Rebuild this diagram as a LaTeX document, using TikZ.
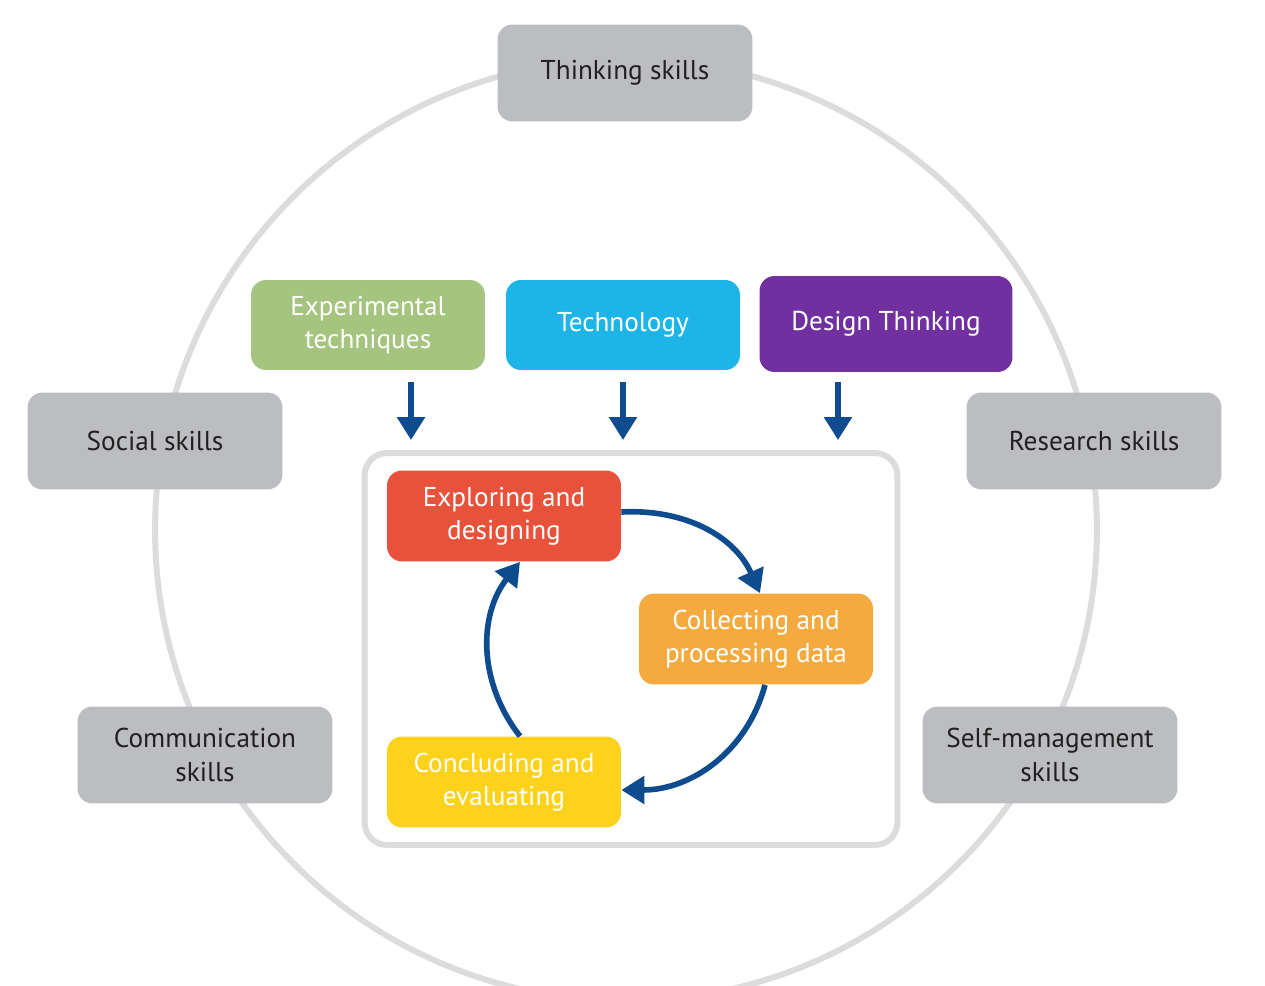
\documentclass[tikz,border=0pt]{standalone}
\usepackage{fontspec}
\setmainfont{PT Sans}
\setsansfont{PT Sans}
\usetikzlibrary{arrows.meta,calc}

\definecolor{ringgrey}{HTML}{DCDCDC}
\definecolor{skillgrey}{HTML}{BCBDC0}
\definecolor{inkblack}{HTML}{231F20}
\definecolor{expgreen}{HTML}{A5C47F}
\definecolor{techblue}{HTML}{1DB5E8}
\definecolor{dtpurple}{HTML}{7030A0}
\definecolor{explorered}{HTML}{E8523A}
\definecolor{collectorange}{HTML}{F5AA3F}
\definecolor{concludeyellow}{HTML}{FCD21C}
\definecolor{arrowblue}{HTML}{0E4B8F}

\begin{document}
\begin{tikzpicture}[x=0.02cm,y=0.02cm,>={Triangle[length=0.46cm,width=0.54cm]},
        font=\fontsize{15.5}{19}\selectfont,
        skill/.style={fill=skillgrey,text=inkblack,rounded corners=0.3cm,
            minimum width=5.1cm,minimum height=1.94cm,align=center,inner sep=0pt},
        tool/.style={text=white,rounded corners=0.3cm,
            minimum width=4.68cm,minimum height=1.8cm,align=center,inner sep=0pt},
        stage/.style={text=white,rounded corners=0.3cm,
            minimum width=4.68cm,minimum height=1.82cm,align=center,inner sep=0pt},
        flow/.style={->,draw=arrowblue,line width=3.2pt}]
        \useasboundingbox (0,0) rectangle (1265,-986);
        \clip (0,0) rectangle (1265,-986);

        % the big ring behind everything
        \draw[ringgrey,line width=3.4pt] (626,-530) circle(9.42cm);

        % the skills round the ring
        \node[skill] (think) at (625,-73) {Thinking skills};
        \node[skill] (social) at (155,-441) {Social skills};
        \node[skill] (research) at (1094,-441) {Research skills};
        \node[skill] (comm) at (205,-755) {Communication\\skills};
        \node[skill] (selfman) at (1050,-755) {Self-management\\skills};

        % the three tools on top
        \node[tool,fill=expgreen] (expt) at (368,-325) {Experimental\\techniques};
        \node[tool,fill=techblue] (tech) at (623,-325) {Technology};
        \node[tool,fill=dtpurple,minimum width=5.06cm,minimum height=1.92cm]
            (design) at (886,-324) {Design Thinking};

        % the box that holds the cycle
        \node[draw=ringgrey,line width=3.4pt,rounded corners=0.45cm,
            minimum width=10.66cm,minimum height=7.84cm] (inner) at (631,-649) {};

        % the stages of the cycle
        \node[stage,fill=explorered] (explore) at (504,-516) {Exploring and\\designing};
        \node[stage,fill=collectorange] (collect) at (756,-639) {Collecting and\\processing data};
        \node[stage,fill=concludeyellow] (conclude) at (504,-782) {Concluding and\\evaluating};

        % arrows down from the tools
        \draw[flow] ($(expt.south)+(43,-12)$) -- ($(expt.south |- inner.north)+(43,10)$);
        \draw[flow] ($(tech.south)+(0,-12)$) -- ($(tech.south |- inner.north)+(0,10)$);
        \draw[flow] ($(design.south)+(-48,-10)$) -- ($(design.south |- inner.north)+(-48,10)$);

        % the cycle
        \draw[flow] ([yshift=0.08cm]explore.east) to[out=3,in=114] ([xshift=0.08cm]collect.north);
        \draw[flow] ([xshift=0.18cm]collect.south) to[out=-105,in=0] ([yshift=-0.16cm]conclude.east);
        \draw[flow] ([xshift=0.32cm]conclude.north) to[out=128,in=232] ([xshift=0.32cm]explore.south);
    \end{tikzpicture}
\end{document}
